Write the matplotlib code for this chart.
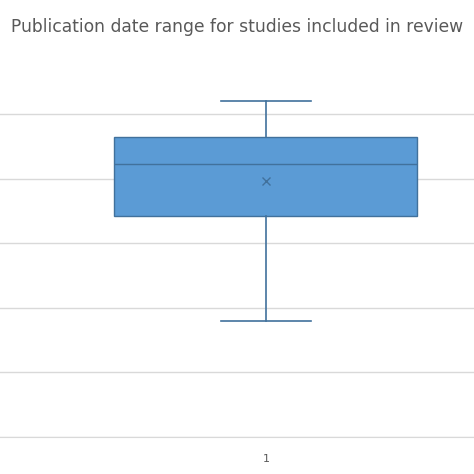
import matplotlib
matplotlib.use("Agg")
import matplotlib.pyplot as plt

# approximate publication years
whisker_low = 1999.0
q1 = 2007.1
median = 2011.1
mean = 2009.8
q3 = 2013.2
whisker_high = 2016.0
category = "1"

fig = plt.figure(figsize=(4.74, 4.74), dpi=100)
ax = fig.add_axes([0.0, 0.078, 1.0, 0.818])

stats = [{"whislo": whisker_low, "q1": q1, "med": median, "mean": mean,
          "q3": q3, "whishi": whisker_high, "fliers": [], "label": category}]
edge = "#41719C"
ax.bxp(stats, positions=[1], widths=0.639, capwidths=0.19, showmeans=True,
       patch_artist=True,
       boxprops=dict(facecolor="#5B9BD5", edgecolor=edge, linewidth=1),
       medianprops=dict(color=edge, linewidth=1),
       whiskerprops=dict(color=edge, linewidth=1.2),
       capprops=dict(color=edge, linewidth=1.2),
       meanprops=dict(marker="x", markeredgecolor=edge, markersize=6))
ax.set_xlim(0.439, 1.439)
ax.set_ylim(1990, 2020)
ax.set_yticks(range(1990, 2016, 5))
ax.yaxis.grid(True, color="#d9d9d9", linewidth=1)
ax.set_axisbelow(True)
ax.tick_params(axis="y", length=0, labelleft=False)
ax.tick_params(axis="x", length=0, labelsize=8, colors="#595959", pad=12)
for side in ["top", "left", "right"]:
    ax.spines[side].set_visible(False)
ax.spines["bottom"].set_color("#d9d9d9")

fig.text(0.5, 0.943, "Publication date range for studies included in review",
         ha="center", va="center", fontsize=12.3, color="#595959")
fig.savefig("out.png", dpi=100)
